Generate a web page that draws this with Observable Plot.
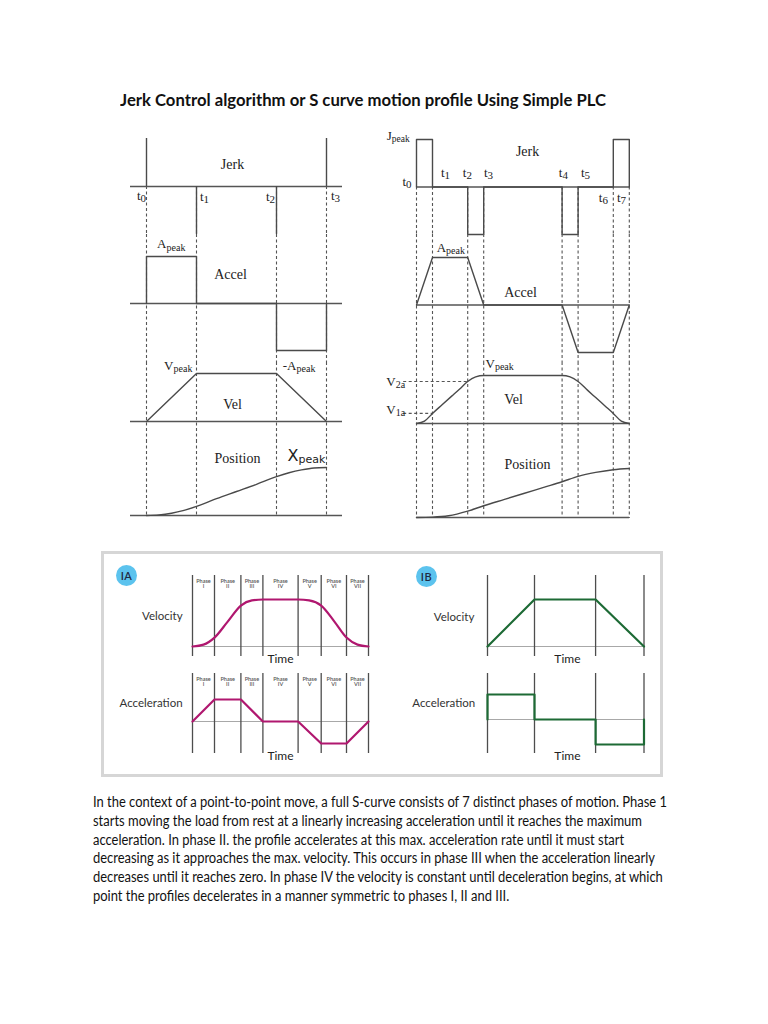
<!DOCTYPE html>
<html>
<head>
<meta charset="utf-8">
<script src="https://cdn.jsdelivr.net/npm/d3@7"></script>
<script src="https://cdn.jsdelivr.net/npm/@observablehq/plot@0.6"></script>
<style>
  html, body { margin: 0; padding: 0; background: #fff; }
  #page { position: relative; width: 768px; height: 1024px; overflow: hidden; background: #fff; }
  #page svg { overflow: visible; }
  .fit { position: absolute; white-space: nowrap; transform-origin: 0 50%; font-family: Lato, "Open Sans", sans-serif; color: #111; line-height: 1; }
  .title { font-weight: 700; font-size: 17px; }
  .para { font-size: 14.5px; }
  .box { position: absolute; left: 101px; top: 551px; width: 556px; height: 220px; border: 3px solid #d6d6d6; }
  .badge { position: absolute; width: 21px; height: 21px; border-radius: 50%; background: #5cc3ee; color: #1f2a44;
           font: 600 11px Lato, "Open Sans", sans-serif; text-align: center; line-height: 21px; letter-spacing: 0.5px; }
</style>
</head>
<body>
<div id="page">
  <div class="fit title" style="left:120px; top:91px;">Jerk Control algorithm or S curve motion profile Using Simple PLC</div>
  <div class="box"></div>
  <div class="badge" style="left:116px; top:565px;">IA</div>
  <div class="badge" style="left:416px; top:566px;">IB</div>
</div>
<script>
// ---------------- DATA ----------------
// (a) trapezoidal acceleration profile (left diagram)
const leftTimes = [0, 1, 2.6, 3.6];
const leftTimeNames = ["0", "1", "2", "3"];
const leftJerk = [1, -1, -1, 1];            // jerk impulse at each time
const leftAccelLevel = [1, 0, -1, 0];       // acceleration level after each time
const leftVelT = [0, 1, 2.6, 3.6];
const leftVelV = [0, 1, 1, 0];
const leftPosT = [0, 0.25, 0.5, 0.75, 1, 1.4, 1.8, 2.2, 2.6, 2.85, 3.1, 3.35, 3.6];
const leftPosV = [0, 0.012, 0.048, 0.108, 0.19, 0.35, 0.5, 0.65, 0.81, 0.89, 0.95, 0.99, 1];

// S-curve profile (right diagram)
const rightTimes = [0, 1, 3.2, 4.2, 9.1, 10.1, 12.3, 13.3];
const rightTimeNames = ["0", "1", "2", "3", "4", "5", "6", "7"];
const rightJerkLevel = [1, 0, -1, 0, -1, 0, 1, 0];
const rightAccelV = [0, 1, 1, 0, 0, -1, -1, 0];
const rightVelT = [0, 0.5, 1, 1.6, 2.2, 2.7, 3.2, 3.7, 4.2, 9.1, 9.6, 10.1, 10.7, 11.2, 11.8, 12.3, 12.8, 13.3];
const rightVelV = [0, 0.05, 0.21, 0.39, 0.57, 0.72, 0.875, 0.97, 1, 1, 0.97, 0.875, 0.69, 0.54, 0.36, 0.21, 0.05, 0];
const rightPosT = [0, 1, 2, 3.2, 4.2, 5.5, 6.7, 8, 9.1, 10.1, 11.2, 12.3, 13.3];
const rightPosV = [0, 0.007, 0.035, 0.13, 0.24, 0.37, 0.49, 0.62, 0.73, 0.84, 0.92, 0.975, 1];

// IA: seven-phase S-curve
const phaseNames = ["I", "II", "III", "IV", "V", "VI", "VII"];
const iaBounds = [0, 1, 2.2, 3.2, 4.8, 5.85, 7, 8];
const iaVelT = [0, 0.5, 1, 1.6, 2.2, 2.7, 3.2, 4.8, 5.3, 5.85, 6.45, 7, 7.5, 8];
const iaVelV = [0, 0.04, 0.19, 0.53, 0.87, 0.98, 1, 1, 0.98, 0.87, 0.53, 0.19, 0.04, 0];
const iaAccV = [0, 1, 1, 0, 0, -1, -1, 0];

// IB: trapezoidal profile
const ibBounds = [0, 1, 2.3, 3.33];
const ibVelV = [0, 1, 1, 0];
const ibAccLevel = [1, 0, -1, 0];

const paragraph = [
  "In the context of a point-to-point move, a full S-curve consists of 7 distinct phases of motion. Phase 1",
  "starts moving the load from rest at a linearly increasing acceleration until it reaches the maximum",
  "acceleration. In phase II. the profile accelerates at this max. acceleration rate until it must start",
  "decreasing as it approaches the max. velocity. This occurs in phase III when the acceleration linearly",
  "decreases until it reaches zero. In phase IV the velocity is constant until deceleration begins, at which",
  "point the profiles decelerates in a manner symmetric to phases I, II and III."
];

// ---------------- DRAWING ----------------
const page = document.getElementById("page");
const serif = "Liberation Serif, DejaVu Serif, serif";
const sans = "Lato, Open Sans, sans-serif";
const ink = "#4a4a4a";
const dash = {stroke: "#555", strokeWidth: 1.1, strokeDasharray: "3,2.5"};
const solid = {stroke: ink, strokeWidth: 1.4};
const base = {stroke: "#555", strokeWidth: 1.7};

function drawRow(panel, row, marks) {
  const svg = Plot.plot({
    width: panel.width, height: row.height,
    marginTop: 0, marginRight: 0, marginBottom: 0, marginLeft: 0,
    x: {domain: panel.xDomain, range: panel.xRange, axis: null},
    y: {domain: row.yDomain, range: row.yRange, axis: null},
    style: {background: "transparent", overflow: "visible"},
    marks
  });
  svg.style.position = "absolute";
  svg.style.left = panel.left + "px";
  svg.style.top = row.top + "px";
  page.appendChild(svg);
}
const pts = (T, V) => T.map((t, i) => ({t, v: V[i]}));
const stepPts = (T, L) => [{t: T[0], v: 0}, ...T.map((t, i) => ({t, v: L[i]}))];

function subText(arr, fs = 13, sfs = 10, sdy = 3.5, family = serif) {
  return [
    Plot.text(arr, {x: "t", y: "v", text: "main", textAnchor: "end", fontSize: fs, fontFamily: family, fill: "#222"}),
    Plot.text(arr, {x: "t", y: "v", text: "sub", textAnchor: "start", dy: sdy, fontSize: sfs, fontFamily: family, fill: "#222"})
  ];
}
function plainText(arr, fs = 14, family = serif) {
  return Plot.text(arr, {x: "t", y: "v", text: "text", fontSize: fs, fontFamily: family, fill: "#222"});
}

// ---- Left diagram ----
const L = {left: 130, width: 212, xDomain: [0, 3.6], xRange: [16, 196]};
drawRow(L, {top: 120, height: 114, yDomain: [-1, 1], yRange: [114, 18]}, [
  Plot.ruleX(leftTimes, {x: d => d, y1: 0, y2: -1, ...dash}),
  Plot.ruleY([0], base),
  Plot.ruleX(leftTimes, {x: d => d, y1: 0, y2: (d, i) => leftJerk[i], ...solid}),
  plainText([{t: 1.72, v: 0.46, text: "Jerk"}]),
  ...subText([
    {t: -0.12, v: -0.19, main: "t", sub: leftTimeNames[0]},
    {t: 1.14, v: -0.21, main: "t", sub: leftTimeNames[1]},
    {t: 2.46, v: -0.21, main: "t", sub: leftTimeNames[2]},
    {t: 3.76, v: -0.19, main: "t", sub: leftTimeNames[3]}
  ], 13, 11, 2.5)
]);
drawRow(L, {top: 234, height: 128, yDomain: [-1, 1], yRange: [116, 22]}, [
  Plot.ruleX(leftTimes, {x: d => d, ...dash}),
  Plot.ruleY([0], base),
  Plot.line(stepPts(leftTimes, leftAccelLevel), {x: "t", y: "v", curve: "step-after", ...solid}),
  plainText([{t: 1.68, v: 0.62, text: "Accel"}]),
  ...subText([
    {t: 0.4, v: 1.26, main: "A", sub: "peak"},
    {t: 3.0, v: -1.32, main: "-A", sub: "peak"}
  ], 13, 10)
]);
drawRow(L, {top: 362, height: 78, yDomain: [0, 1], yRange: [59, 11]}, [
  Plot.ruleX(leftTimes, {x: d => d, ...dash}),
  Plot.ruleY([0], base),
  Plot.line(pts(leftVelT, leftVelV), {x: "t", y: "v", ...solid}),
  plainText([{t: 1.72, v: 0.35, text: "Vel"}]),
  ...subText([{t: 0.54, v: 1.17, main: "V", sub: "peak"}], 13, 10)
]);
drawRow(L, {top: 440, height: 76, yDomain: [0, 1], yRange: [75, 27]}, [
  Plot.ruleX(leftTimes, {x: d => d, ...dash}),
  Plot.ruleY([0], base),
  Plot.line(pts(leftPosT, leftPosV), {x: "t", y: "v", curve: "monotone-x", ...solid}),
  plainText([{t: 1.82, v: 1.19, text: "Position"}]),
  ...subText([{t: 3.04, v: 1.25, main: "X", sub: "peak"}], 16, 11, 4, "DejaVu Sans, sans-serif")
]);

// ---- Right diagram ----
const R = {left: 416, width: 213, xDomain: [0, 13.3], xRange: [0, 212.8]};
drawRow(R, {top: 120, height: 114, yDomain: [-1, 1], yRange: [114, 19]}, [
  Plot.ruleX(rightTimes, {x: d => d, y1: 0, y2: -1, ...dash}),
  Plot.ruleY([0], base),
  Plot.line(stepPts(rightTimes, rightJerkLevel), {x: "t", y: "v", curve: "step-after", ...solid}),
  plainText([{t: 6.94, v: 0.75, text: "Jerk"}]),
  ...subText([{t: -1.55, v: 1.08, main: "J", sub: "peak"}], 13, 9.5),
  ...subText([
    {t: -0.65, v: 0.1, main: "t", sub: rightTimeNames[0]},
    {t: 1.75, v: 0.29, main: "t", sub: rightTimeNames[1]},
    {t: 3.12, v: 0.29, main: "t", sub: rightTimeNames[2]},
    {t: 4.44, v: 0.29, main: "t", sub: rightTimeNames[3]},
    {t: 9.12, v: 0.29, main: "t", sub: rightTimeNames[4]},
    {t: 10.5, v: 0.29, main: "t", sub: rightTimeNames[5]},
    {t: 11.62, v: -0.23, main: "t", sub: rightTimeNames[6]},
    {t: 12.75, v: -0.23, main: "t", sub: rightTimeNames[7]}
  ], 13, 11, 2.5)
]);
drawRow(R, {top: 234, height: 128, yDomain: [-1, 1], yRange: [118, 23]}, [
  Plot.ruleX(rightTimes, {x: d => d, ...dash}),
  Plot.ruleY([0], base),
  Plot.line(pts(rightTimes, rightAccelV), {x: "t", y: "v", ...solid}),
  plainText([{t: 6.5, v: 0.26, text: "Accel"}]),
  ...subText([{t: 1.85, v: 1.21, main: "A", sub: "peak"}], 13, 10)
]);
const v1a = rightVelV[rightVelT.indexOf(rightTimes[1])];
const v2a = rightVelV[rightVelT.indexOf(rightTimes[2])];
drawRow(R, {top: 362, height: 78, yDomain: [0, 1], yRange: [61, 13]}, [
  Plot.ruleX(rightTimes, {x: d => d, ...dash}),
  Plot.ruleY([{v: v2a, t: rightTimes[2]}, {v: v1a, t: rightTimes[1]}], {y: "v", x1: () => -0.8, x2: "t", ...dash}),
  Plot.ruleY([0], base),
  Plot.line(pts(rightVelT, rightVelV), {x: "t", y: "v", curve: "monotone-x", ...solid}),
  plainText([{t: 6.06, v: 0.5, text: "Vel"}]),
  ...subText([
    {t: 4.9, v: 1.25, main: "V", sub: "peak"},
    {t: -1.3, v: 0.875, main: "V", sub: "2a"},
    {t: -1.3, v: 0.29, main: "V", sub: "1a"}
  ], 13, 10)
]);
drawRow(R, {top: 440, height: 78, yDomain: [0, 1], yRange: [77, 28]}, [
  Plot.ruleX(rightTimes, {x: d => d, ...dash}),
  Plot.ruleY([0], base),
  Plot.line(pts(rightPosT, rightPosV), {x: "t", y: "v", curve: "monotone-x", ...solid}),
  plainText([{t: 6.94, v: 1.08, text: "Position"}])
]);

// ---- IA ----
const magenta = "#b0176f", green = "#1d6a35";
const grid = {stroke: "#4d4d4d", strokeWidth: 1.3};
const zero = {stroke: "#a8a8a8", strokeWidth: 1.2};
const phaseText = Plot.text(phaseNames, {
  x: (d, i) => (iaBounds[i] + iaBounds[i + 1]) / 2, frameAnchor: "top", lineAnchor: "top", dy: 3,
  text: d => "Phase\n" + d, fontSize: 5.5, lineHeight: 1.05, fontFamily: sans, fill: "#555", fontWeight: 600
});
const timeText = (x) => Plot.text(["Time"], {x: () => x, frameAnchor: "bottom", lineAnchor: "middle", dy: 3, fontSize: 12, fontFamily: sans, fill: "#222"});
const rowLabel = (t, v, text) => Plot.text([text], {x: () => t, y: () => v, text: d => d, textAnchor: "end", fontSize: 11.5, fontFamily: sans, fill: "#333"});

const IA = {left: 185, width: 190, xDomain: [0, 8], xRange: [7, 183]};
drawRow(IA, {top: 575, height: 81, yDomain: [0, 1], yRange: [71, 24]}, [
  Plot.ruleY([0], {x1: iaBounds[0], x2: iaBounds[7], ...zero}),
  Plot.ruleX(iaBounds, {x: d => d, ...grid}),
  Plot.line(pts(iaVelT, iaVelV), {x: "t", y: "v", curve: "monotone-x", stroke: magenta, strokeWidth: 2.2}),
  phaseText, timeText(4), rowLabel(-0.45, 0.64, "Velocity")
]);
drawRow(IA, {top: 673, height: 80, yDomain: [-1, 1], yRange: [70, 26]}, [
  Plot.ruleY([0], {x1: iaBounds[0], x2: iaBounds[7], ...zero}),
  Plot.ruleX(iaBounds, {x: d => d, ...grid}),
  Plot.line(pts(iaBounds, iaAccV), {x: "t", y: "v", stroke: magenta, strokeWidth: 2.2}),
  phaseText, timeText(4), rowLabel(-0.45, 0.82, "Acceleration")
]);

// ---- IB ----
const IB = {left: 480, width: 170, xDomain: [0, 3.33], xRange: [7, 163.5]};
drawRow(IB, {top: 575, height: 81, yDomain: [0, 1], yRange: [71, 24]}, [
  Plot.ruleY([0], {x1: ibBounds[0], x2: ibBounds[3], ...zero}),
  Plot.ruleX(ibBounds, {x: d => d, ...grid}),
  Plot.line(pts(ibBounds, ibVelV), {x: "t", y: "v", stroke: green, strokeWidth: 2.2}),
  timeText(1.7), rowLabel(-0.28, 0.62, "Velocity")
]);
drawRow(IB, {top: 673, height: 80, yDomain: [-1, 1], yRange: [71, 21]}, [
  Plot.ruleY([0], {x1: ibBounds[0], x2: ibBounds[3], ...zero}),
  Plot.ruleX(ibBounds, {x: d => d, ...grid}),
  Plot.line(stepPts(ibBounds, ibAccLevel), {x: "t", y: "v", curve: "step-after", stroke: green, strokeWidth: 2.2}),
  timeText(1.7), rowLabel(-0.26, 0.64, "Acceleration")
]);

// ---- Paragraph ----
const paraLines = paragraph.map((line, i) => {
  const d = document.createElement("div");
  d.className = "fit para";
  d.textContent = line;
  d.style.left = "93px";
  d.style.top = (795 + i * 18.8) + "px";
  page.appendChild(d);
  return d;
});

function fit() {
  const title = document.querySelector(".title");
  title.style.transform = "none";
  const tw = title.getBoundingClientRect().width;
  if (tw > 0) title.style.transform = `scaleX(${486 / tw})`;
  // one common horizontal scale for all paragraph lines, set by the first line's width
  paraLines.forEach(el => el.style.transform = "none");
  const w0 = paraLines[0].getBoundingClientRect().width;
  if (w0 > 0) {
    const k = 574 / w0;
    paraLines.forEach(el => el.style.transform = `scaleX(${k})`);
  }
}
fit();
if (document.fonts && document.fonts.ready) document.fonts.ready.then(fit);
</script>
</body>
</html>
